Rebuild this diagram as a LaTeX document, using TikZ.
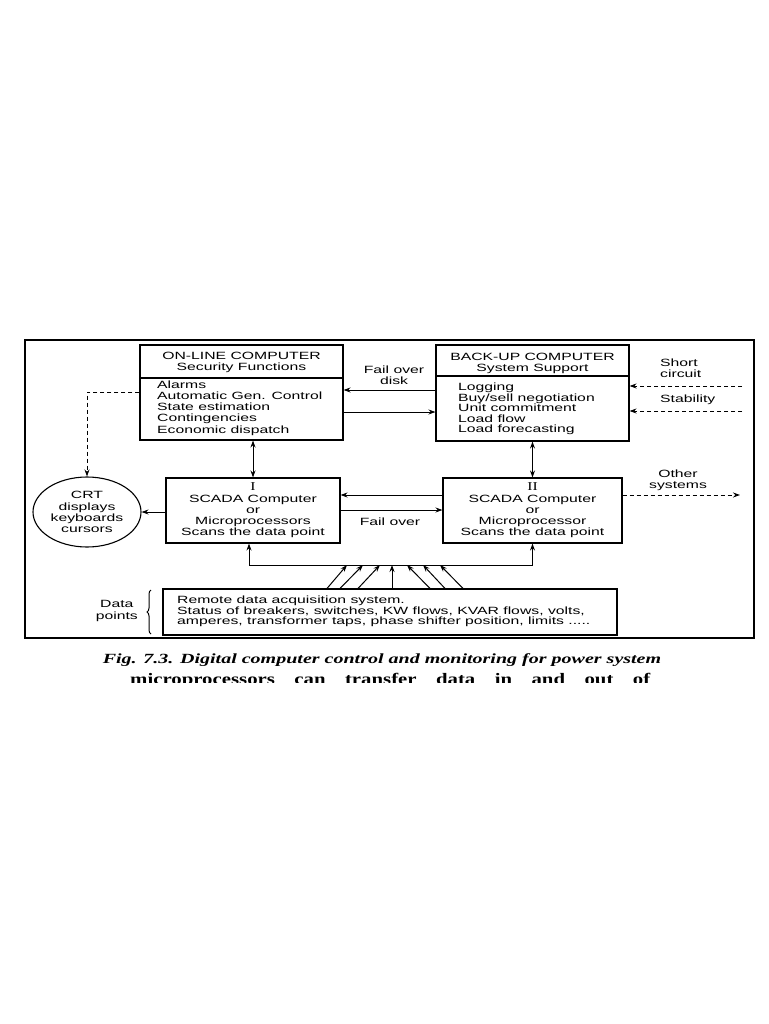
\documentclass[tikz,border=0pt]{standalone}
\usepackage{fontspec}
\setmainfont{Liberation Sans}[FakeStretch=1.5]
\newfontfamily\romfont{Liberation Serif}[FakeStretch=1.3]
\newfontfamily\capfont{Liberation Serif}[FakeStretch=1.43]
\usetikzlibrary{arrows.meta,shapes.geometric,decorations.pathreplacing}
\begin{document}
\begin{tikzpicture}[x=1pt,y=-1pt,
  font=\fontsize{10.5}{11.2}\selectfont,
  box/.style={draw, line width=1.1pt, inner sep=0pt},
  lbl/.style={inner sep=0pt, align=center},
  lst/.style={inner sep=0pt, align=left, anchor=west},
  arr/.style={line width=1pt, -{Stealth[length=7pt,width=5pt]}},
  darr/.style={line width=1pt, {Stealth[length=7pt,width=5pt]}-{Stealth[length=7pt,width=5pt]}},
  dsh/.style={arr, dash pattern=on 4.5pt off 2.5pt},
]
\useasboundingbox (0,0) rectangle (768,1024);
\fill[white] (0,0) rectangle (768,1024);
\draw[line width=1.2pt] (25,340) rectangle (754,638);

% top boxes
\node[box, minimum width=203pt, minimum height=95pt] (online) at (241.5,392.5) {};
\draw[line width=1.1pt] (online.west |- 0,378) -- (online.east |- 0,378);
\node[lbl] (onhead) at (241.5,362.5) {ON-LINE COMPUTER\\Security Functions};
\node[lst] (onlist) at (157,408) {Alarms\\Automatic Gen. Control\\State estimation\\Contingencies\\Economic dispatch};

\node[box, minimum width=193pt, minimum height=96pt] (backup) at (532.5,393) {};
\draw[line width=1.1pt] (backup.west |- 0,376) -- (backup.east |- 0,376);
\node[lbl] (bkhead) at (532.5,363.5) {BACK-UP COMPUTER\\System Support};
\node[lst, font=\fontsize{10.5}{10.6}\selectfont] (bklist) at (458,409) {Logging\\Buy/sell negotiation\\Unit commitment\\Load flow\\Load forecasting};

\node[lbl] (fod) at (394,375) {Fail over\\disk};
\draw[arr] (backup.west |- 0,390) -- (online.east |- 0,390);
\draw[arr] (online.east |- 0,412) -- (backup.west |- 0,412);

\node[lst] (sc) at (660,368) {Short\\circuit};
\node[lst] (stab) at (660,400) {Stability};
\coordinate (scin) at (742,386);
\coordinate (stin) at (742,411);
\draw[dsh] (scin) -- (backup.east |- scin);
\draw[dsh] (stin) -- (backup.east |- stin);

% middle
\node[box, minimum width=174pt, minimum height=65pt, align=center] (scada1) at (253,510.5) {{\romfont\fontsize{12}{11.2}\selectfont I}\\SCADA Computer\\or\\Microprocessors\\Scans the data point};
\node[box, minimum width=179pt, minimum height=65pt, align=center] (scada2) at (532.5,510.5) {{\romfont\fontsize{12}{11.2}\selectfont II}\\SCADA Computer\\or\\Microprocessor\\Scans the data point};
\node[draw, ellipse, line width=1.1pt, minimum width=108pt, minimum height=70pt, inner sep=0pt, align=center] (crt) at (87,512) {CRT\\displays\\keyboards\\cursors};

\draw[darr] (online.south -| scada1.north) -- (scada1.north);
\draw[darr] (backup.south -| scada2.north) -- (scada2.north);
\draw[dsh] (online.west |- 0,392) -| (crt.north);
\draw[arr] (scada1.west |- crt.east) -- (crt.east);
\draw[arr] (scada2.west |- 0,495) -- (scada1.east |- 0,495);
\draw[arr] (scada1.east |- 0,510) -- (scada2.west |- 0,510);
\node[lbl] (fo) at (390,522) {Fail over};
\node[lbl] (oth) at (678,480) {Other\\systems};
\coordinate (othout) at (740,495);
\draw[dsh] (scada2.east |- othout) -- (othout);

% bottom
\coordinate (busL) at (249,565);
\coordinate (busR) at (532.5,565);
\draw[darr] (scada1.south -| busL) -- (busL) -- (busR) -- (scada2.south -| busR);
\node[box, minimum width=454pt, minimum height=46pt] (data) at (390,612) {};
\node[lst, font=\fontsize{10.5}{10.5}\selectfont] (datatxt) at (177,611.5) {Remote data acquisition system.\\Status of breakers, switches, KW flows, KVAR flows, volts,\\amperes, transformer taps, phase shifter position, limits .....};
\foreach \b/\t in {-63/-43,-50/-27,-32/-10,2/2,40/17,55/33,73/50}
  \draw[arr] ([xshift=\b pt]data.north) -- ([xshift=\t pt]data.north |- busL);
\node[lbl, anchor=east] (dp) at (138,611) {Data\\points};
\draw[line width=1pt, decorate, decoration={brace, amplitude=4pt}] (151,634) -- (151,590);

% caption
\node[inner sep=0pt] (cap) at (382,660) {\capfont\bfseries\itshape\fontsize{14}{14}\selectfont Fig. 7.3. Digital computer control and monitoring for power system};
\begin{scope}
\clip (0,668) rectangle (768,682);
\node[anchor=base west, inner sep=0pt] (tail) at (130,684) {\romfont\bfseries\fontsize{16}{16}\selectfont\makebox[520pt][s]{microprocessors can transfer data in and out of}};
\end{scope}
\end{tikzpicture}
\end{document}
